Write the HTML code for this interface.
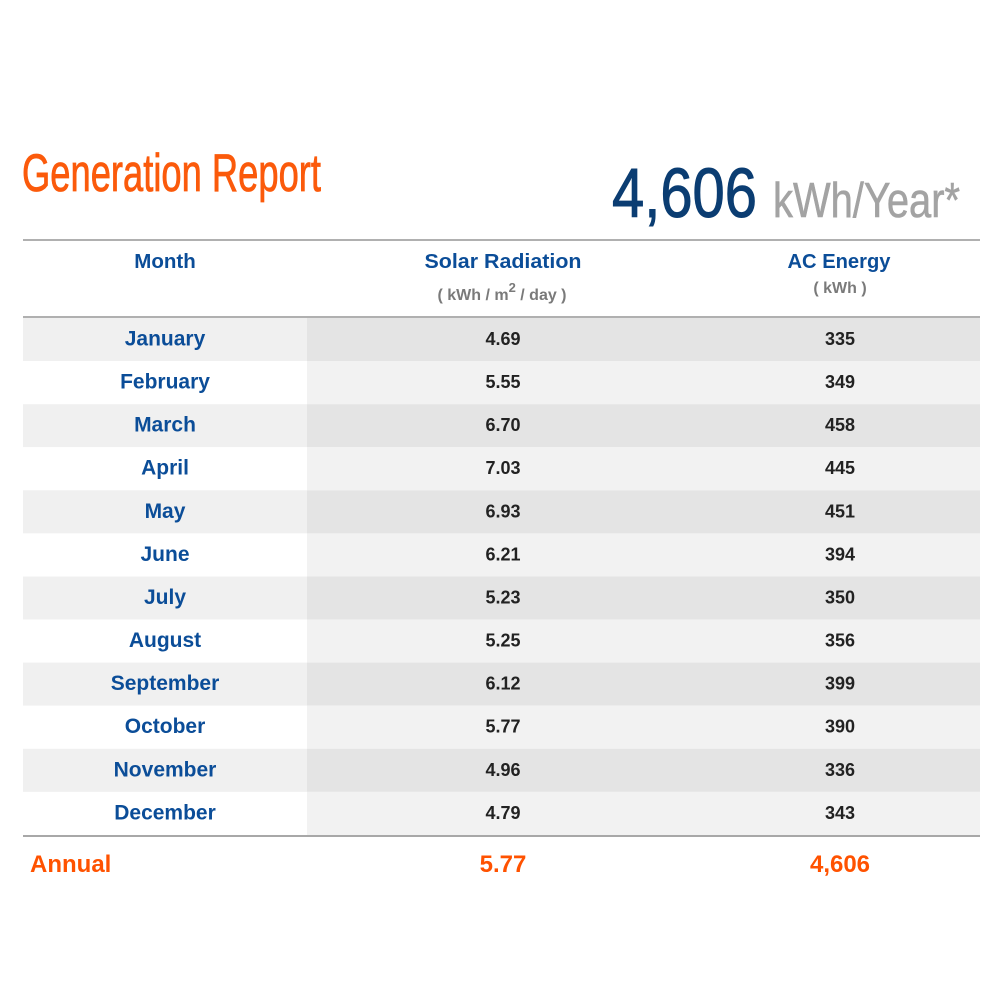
<!DOCTYPE html>
<html>
<head>
<meta charset="utf-8">
<style>
html,body{margin:0;padding:0;background:#fff;}
svg{display:block;}
.hdr{font-family:"Liberation Sans",Arial,sans-serif;font-weight:bold;fill:#0b4d98;}
.sub{font-family:"Liberation Sans",Arial,sans-serif;font-weight:bold;fill:#7a7a7a;}
.mon{font-family:"Liberation Sans",Arial,sans-serif;font-weight:bold;fill:#0b4d98;font-size:21px;}
.num{font-family:"Liberation Sans",Arial,sans-serif;font-weight:bold;fill:#222;font-size:18px;}
.ann{font-family:"Liberation Sans",Arial,sans-serif;font-weight:bold;fill:#ff5200;font-size:24px;}
</style>
</head>
<body>
<svg width="1000" height="1000" viewBox="0 0 1000 1000" xmlns="http://www.w3.org/2000/svg">
<rect x="0" y="0" width="1000" height="1000" fill="#fff"/>

<!-- Title -->
<text x="22" y="191" font-family="Liberation Sans, Arial, sans-serif" font-size="53" fill="#fb5a0b" stroke="#fb5a0b" stroke-width="0.8" textLength="299" lengthAdjust="spacingAndGlyphs">Generation Report</text>
<text x="612" y="217" font-family="Liberation Sans, Arial, sans-serif" font-size="70" fill="#0b3d72" stroke="#0b3d72" stroke-width="1.0" textLength="145" lengthAdjust="spacingAndGlyphs">4,606</text>
<text x="773" y="217" font-family="Liberation Sans, Arial, sans-serif" font-size="49" fill="#a3a3a3" stroke="#a3a3a3" stroke-width="0.6" textLength="187" lengthAdjust="spacingAndGlyphs">kWh/Year*</text>

<!-- Row backgrounds -->
<g>
<rect x="23" y="318" width="284" height="43.1" fill="#f0f0f0"/><rect x="307" y="318" width="673" height="43.1" fill="#e4e4e4"/>
<rect x="23" y="361.1" width="284" height="43.1" fill="#ffffff"/><rect x="307" y="361.1" width="673" height="43.1" fill="#f2f2f2"/>
<rect x="23" y="404.2" width="284" height="43.1" fill="#f0f0f0"/><rect x="307" y="404.2" width="673" height="43.1" fill="#e4e4e4"/>
<rect x="23" y="447.2" width="284" height="43.1" fill="#ffffff"/><rect x="307" y="447.2" width="673" height="43.1" fill="#f2f2f2"/>
<rect x="23" y="490.3" width="284" height="43.1" fill="#f0f0f0"/><rect x="307" y="490.3" width="673" height="43.1" fill="#e4e4e4"/>
<rect x="23" y="533.4" width="284" height="43.1" fill="#ffffff"/><rect x="307" y="533.4" width="673" height="43.1" fill="#f2f2f2"/>
<rect x="23" y="576.5" width="284" height="43.1" fill="#f0f0f0"/><rect x="307" y="576.5" width="673" height="43.1" fill="#e4e4e4"/>
<rect x="23" y="619.6" width="284" height="43.1" fill="#ffffff"/><rect x="307" y="619.6" width="673" height="43.1" fill="#f2f2f2"/>
<rect x="23" y="662.6" width="284" height="43.1" fill="#f0f0f0"/><rect x="307" y="662.6" width="673" height="43.1" fill="#e4e4e4"/>
<rect x="23" y="705.7" width="284" height="43.1" fill="#ffffff"/><rect x="307" y="705.7" width="673" height="43.1" fill="#f2f2f2"/>
<rect x="23" y="748.8" width="284" height="43.1" fill="#f0f0f0"/><rect x="307" y="748.8" width="673" height="43.1" fill="#e4e4e4"/>
<rect x="23" y="791.9" width="284" height="43.1" fill="#ffffff"/><rect x="307" y="791.9" width="673" height="43.1" fill="#f2f2f2"/>
</g>

<!-- Lines -->
<rect x="23" y="239" width="957" height="2" fill="#b0b0b0"/>
<rect x="23" y="316" width="957" height="2" fill="#b0b0b0"/>
<rect x="23" y="835" width="957" height="2" fill="#a8a8a8"/>

<!-- Header -->
<text class="hdr" x="165" y="268" font-size="20.5" text-anchor="middle">Month</text>
<text class="hdr" x="503" y="268" font-size="20.5" text-anchor="middle" textLength="157" lengthAdjust="spacingAndGlyphs">Solar Radiation</text>
<text class="hdr" x="839" y="268" font-size="20.5" text-anchor="middle" textLength="103" lengthAdjust="spacingAndGlyphs">AC Energy</text>
<text class="sub" x="502" y="300" font-size="16" text-anchor="middle">( kWh / m<tspan font-size="13" dy="-8">2</tspan><tspan dy="8"> / day )</tspan></text>
<text class="sub" x="840" y="293" font-size="16" text-anchor="middle">( kWh )</text>

<!-- Months -->
<text class="mon" x="165" y="345.5" text-anchor="middle">January</text>
<text class="mon" x="165" y="388.6" text-anchor="middle">February</text>
<text class="mon" x="165" y="431.7" text-anchor="middle">March</text>
<text class="mon" x="165" y="474.7" text-anchor="middle">April</text>
<text class="mon" x="165" y="517.8" text-anchor="middle">May</text>
<text class="mon" x="165" y="560.9" text-anchor="middle">June</text>
<text class="mon" x="165" y="604" text-anchor="middle">July</text>
<text class="mon" x="165" y="647.1" text-anchor="middle">August</text>
<text class="mon" x="165" y="690.1" text-anchor="middle">September</text>
<text class="mon" x="165" y="733.2" text-anchor="middle">October</text>
<text class="mon" x="165" y="776.3" text-anchor="middle">November</text>
<text class="mon" x="165" y="819.4" text-anchor="middle">December</text>

<!-- Solar radiation -->
<text class="num" x="503" y="345" text-anchor="middle">4.69</text>
<text class="num" x="503" y="388.1" text-anchor="middle">5.55</text>
<text class="num" x="503" y="431.2" text-anchor="middle">6.70</text>
<text class="num" x="503" y="474.2" text-anchor="middle">7.03</text>
<text class="num" x="503" y="517.3" text-anchor="middle">6.93</text>
<text class="num" x="503" y="560.4" text-anchor="middle">6.21</text>
<text class="num" x="503" y="603.5" text-anchor="middle">5.23</text>
<text class="num" x="503" y="646.6" text-anchor="middle">5.25</text>
<text class="num" x="503" y="689.6" text-anchor="middle">6.12</text>
<text class="num" x="503" y="732.7" text-anchor="middle">5.77</text>
<text class="num" x="503" y="775.8" text-anchor="middle">4.96</text>
<text class="num" x="503" y="818.9" text-anchor="middle">4.79</text>

<!-- AC Energy -->
<text class="num" x="840" y="345" text-anchor="middle">335</text>
<text class="num" x="840" y="388.1" text-anchor="middle">349</text>
<text class="num" x="840" y="431.2" text-anchor="middle">458</text>
<text class="num" x="840" y="474.2" text-anchor="middle">445</text>
<text class="num" x="840" y="517.3" text-anchor="middle">451</text>
<text class="num" x="840" y="560.4" text-anchor="middle">394</text>
<text class="num" x="840" y="603.5" text-anchor="middle">350</text>
<text class="num" x="840" y="646.6" text-anchor="middle">356</text>
<text class="num" x="840" y="689.6" text-anchor="middle">399</text>
<text class="num" x="840" y="732.7" text-anchor="middle">390</text>
<text class="num" x="840" y="775.8" text-anchor="middle">336</text>
<text class="num" x="840" y="818.9" text-anchor="middle">343</text>

<!-- Annual -->
<text class="ann" x="30" y="872">Annual</text>
<text class="ann" x="503" y="872" text-anchor="middle">5.77</text>
<text class="ann" x="840" y="872" text-anchor="middle">4,606</text>
</svg>
</body>
</html>
